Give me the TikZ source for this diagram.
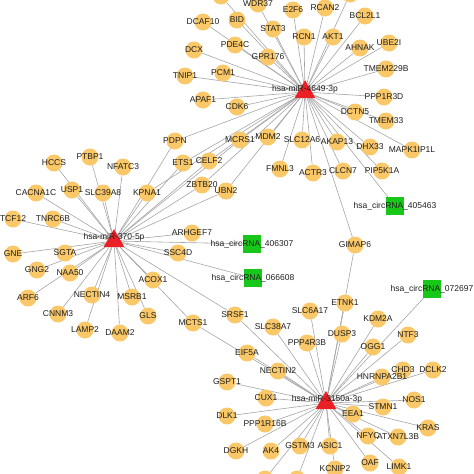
\documentclass[tikz,border=0pt]{standalone}
\usepackage{fontspec}
\setmainfont{Liberation Sans}
\usepackage{tikz}
\usetikzlibrary{shapes.geometric}

\definecolor{geneorange}{RGB}{250,200,104}
\definecolor{mirred}{RGB}{234,32,38}
\definecolor{circgreen}{RGB}{24,200,24}
\definecolor{linkgray}{RGB}{165,165,165}

\pgfdeclarelayer{edges}
\pgfdeclarelayer{front}
\pgfsetlayers{edges,main,front}

\begin{document}
\begin{tikzpicture}[x=1pt,y=-1pt,
  gene/.style={circle,fill=geneorange,minimum size=17pt,inner sep=0pt},
  mirna/.style={regular polygon,regular polygon sides=3,fill=mirred,minimum size=24pt,inner sep=0pt},
  circrna/.style={rectangle,fill=circgreen,minimum size=18pt,inner sep=0pt},
  txt/.style={font=\fontsize{8.5}{9}\selectfont,text=black!88,inner sep=0pt},
  link/.style={draw=linkgray,line width=0.6pt}]

\useasboundingbox (0,0) rectangle (474,474);
\clip (0,0) rectangle (474,474);

% genes
\foreach \g/\x/\y in {
  WDR37/258/4, BID/237/20, DCAF10/203/22, E2F6/293/10, STAT3/273/29,
  RCN1/304/37, RCAN2/325/8, BCL2L1/365/16, AKT1/333/37, PDE4C/235/45,
  DCX/194/50, GPR176/268/57, UBE2I/389/43, AHNAK/360/48, TNIP1/185/76,
  PCM1/223/73, TMEM229B/386/69, APAF1/203/100, CDK6/237/107, PPP1R3D/384/97,
  DCTN5/355/112, TMEM33/386/121, MCRS1/240/140, MDM2/268/137, SLC12A6/302/140,
  AKAP13/337/142, DHX33/370/147, MAPK1IP1L/412/150, FMNL3/280/169, ACTR3/313/173,
  CLCN7/343/171, PIP5K1A/382/171,
  PDPN/175/141, ETS1/183/163, CELF2/209/161, ZBTB20/202/185, UBN2/226/191,
  KPNA1/147/193,
  HCCS/54/163, PTBP1/90/157, NFATC3/123/167, CACNA1C/36/193, USP1/72/190,
  SLC39A8/103/193, TCF12/13/219, TNRC6B/53/219, GNE/13/254, SGTA/65/253,
  GNG2/37/270, NAA50/70/273, ARF6/28/298, NECTIN4/92/295, MSRB1/132/297,
  ACOX1/153/280, GLS/148/316, CNNM3/58/314, LAMP2/85/330, DAAM2/120/333,
  ARHGEF7/192/233, SSC4D/178/253,
  MCTS1/193/323, SRSF1/235/315, GIMAP6/355/245,
  SLC6A17/310/311, SLC38A7/273/327, ETNK1/345/303, KDM2A/378/319, DUSP3/342/334,
  PPP4R3B/307/343, OGG1/373/347, NTF3/408/335, CHD3/403/370, DCLK2/433/370,
  HNRNPA2B1/382/377, STMN1/383/407, NOS1/414/400, EEA1/353/414, KRAS/428/428,
  NFYC/368/436, ATXN7L3B/398/437, ASIC1/330/446, GSTM3/300/446, OAF/370/463,
  LIMK1/399/467, KCNIP2/335/469, EIF5A/247/353, NECTIN2/278/371, GSPT1/227/382,
  CUX1/266/398, DLK1/227/416, PPP1R16B/265/424, DGKH/236/451, AK4/271/451}{
  \node[gene] (\g) at (\x,\y) {};
  \begin{pgfonlayer}{front}
    \node[txt] at (\g) {\g};
  \end{pgfonlayer}
}
% cut at the frame
\node[gene] (tc1) at (221,-4) {};
\node[gene] (tc2) at (350,-6) {};
\node[gene] (bc1) at (265,479) {};
\node[gene] (bc2) at (297,479) {};

% miRNAs
\node[mirna] (m4649) at (305,92) {};
\node[mirna] (m370) at (114,241) {};
\node[mirna] (m3150) at (326,403) {};

% circRNAs
\node[circrna] (c405463) at (395,206) {};
\node[circrna] (c406307) at (252,244) {};
\node[circrna] (c066608) at (253,278) {};
\node[circrna] (c072697) at (432,289) {};

\begin{pgfonlayer}{front}
\node[txt] at (305,89) {hsa-miR-4649-3p};
\node[txt] at (114,237) {hsa-miR-370-5p};
\node[txt] at (327,399) {hsa-miR-3150a-3p};
\node[txt] at (c405463) {hsa\_circRNA\_405463};
\node[txt] at (c406307) {hsa\_circRNA\_406307};
\node[txt] at (c066608) {hsa\_circRNA\_066608};
\node[txt] at (c072697) {hsa\_circRNA\_072697};
\end{pgfonlayer}

% links
\begin{pgfonlayer}{edges}
\foreach \g in {WDR37,BID,DCAF10,E2F6,STAT3,RCN1,RCAN2,BCL2L1,AKT1,PDE4C,DCX,
  GPR176,UBE2I,AHNAK,TNIP1,PCM1,TMEM229B,APAF1,CDK6,PPP1R3D,DCTN5,TMEM33,
  MCRS1,MDM2,SLC12A6,AKAP13,DHX33,MAPK1IP1L,FMNL3,ACTR3,CLCN7,PIP5K1A,
  PDPN,ETS1,CELF2,ZBTB20,UBN2,KPNA1,GIMAP6,c405463,tc1,tc2}
  \draw[link] (m4649) -- (\g);
\foreach \g in {HCCS,PTBP1,NFATC3,CACNA1C,USP1,SLC39A8,TCF12,TNRC6B,GNE,SGTA,
  GNG2,NAA50,ARF6,NECTIN4,MSRB1,ACOX1,GLS,CNNM3,LAMP2,DAAM2,ARHGEF7,SSC4D,
  PDPN,ETS1,CELF2,MCRS1,ZBTB20,UBN2,KPNA1,MCTS1,SRSF1,c406307,c066608}
  \draw[link] (m370) -- (\g);
\foreach \g in {GIMAP6,MCTS1,SRSF1,SLC6A17,SLC38A7,ETNK1,KDM2A,DUSP3,PPP4R3B,
  OGG1,NTF3,CHD3,DCLK2,HNRNPA2B1,STMN1,NOS1,EEA1,KRAS,NFYC,ATXN7L3B,ASIC1,
  GSTM3,OAF,LIMK1,KCNIP2,EIF5A,NECTIN2,GSPT1,CUX1,DLK1,PPP1R16B,DGKH,AK4,
  c072697,bc1,bc2}
  \draw[link] (m3150) -- (\g);
\end{pgfonlayer}

\end{tikzpicture}
\end{document}
